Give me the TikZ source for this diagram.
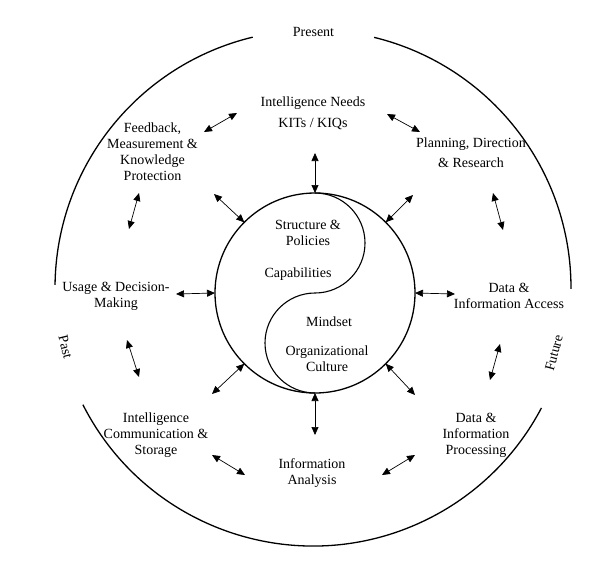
\documentclass[tikz,border=0pt]{standalone}
\usepackage{fontspec}
\setmainfont{Liberation Serif}
\usetikzlibrary{arrows.meta,calc}

\begin{document}
\begin{tikzpicture}[x=1pt, y=-1pt,
  lbl/.style={font=\fontsize{14}{16}\selectfont, align=center, inner sep=0pt},
  ring/.style={line width=1.3pt},
  dbl/.style={{Triangle[length=8pt,width=7pt]}-{Triangle[length=8pt,width=7pt]}, line width=0.7pt}]
  \useasboundingbox (0,0) rectangle (607,574);

  % Outer ring, broken at the time labels
  \coordinate (ctr) at (313,288);
  \draw[ring] ($(ctr)+(-103.5:258)$) arc[start angle=-103.5, end angle=-179.3, radius=258];
  \draw[ring] ($(ctr)+(-206.9:258)$) arc[start angle=-206.9, end angle=-332.3, radius=258];
  \draw[ring] ($(ctr)+(0.2:258)$) arc[start angle=0.2, end angle=-76.3, radius=258];

  \node[lbl] (present) at (313.5,32) {Present};
  \node[lbl, rotate=-76] (past) at (65.5,347) {Past};
  \node[lbl, rotate=75] (future) at (554,353) {Future};

  % Core circle with the S line
  \node[draw, circle, ring, minimum size=200pt, inner sep=0pt, outer sep=0pt] (core) at (315,293) {};
  \draw[line width=1.1pt] (core.north) arc[start angle=-90, end angle=90, radius=50]
    arc[start angle=-90, end angle=-270, radius=50];

  \node[lbl] (structure) at (308,233) {Structure \&\\Policies};
  \node[lbl] (capab) at (298,274) {Capabilities};
  \node[lbl] (mindset) at (329,322) {Mindset};
  \node[lbl] (culture) at (327,358.5) {Organizational\\Culture};

  % Cycle steps
  \node[lbl] (needs) at (313,113.5) {Intelligence Needs\\[5pt]KITs / KIQs};
  \node[lbl] (plan) at (471,153) {Planning, Direction\\[4pt]\& Research};
  \node[lbl] (access) at (509,296) {Data \&\\Information Access};
  \node[lbl] (process) at (476,435) {Data \&\\Information\\Processing};
  \node[lbl] (analysis) at (312,473) {Information\\Analysis};
  \node[lbl] (comm) at (156,435) {Intelligence\\Communication \&\\Storage};
  \node[lbl] (usage) at (116,296) {Usage \& Decision-\\Making};
  \node[lbl] (feedback) at (152.5,151.5) {Feedback,\\Measurement \&\\Knowledge\\Protection};

  % Arrow ends
  \foreach \n/\x/\y in {tN/315/153, tNE/413/195, tE/455/294, tSE/415/395,
      tS/315/435, tSW/212/394, tW/176/294, tNW/214/194,
      fbA/204/132, fbB/237/113, plA/387/114, plB/420/132,
      acA/493/193, acB/503/230, usA/139/193, usB/129/229,
      cmA/127/340, cmB/139/377, prA/500/344, prB/490/380,
      anA/212/455, anB/245/475, anC/382/475, anD/415/455}
    \coordinate (\n) at (\x,\y);

  % Arrows
  \foreach \a/\b in {tN/core.north, tNE/core.45, tE/core.east, tSE/core.-45,
      tS/core.south, tSW/core.-135, tW/core.west, tNW/core.135,
      fbA/fbB, plA/plB, acA/acB, usA/usB, cmA/cmB, prA/prB, anA/anB, anC/anD}
    \draw[dbl] (\a) -- (\b);
\end{tikzpicture}
\end{document}
